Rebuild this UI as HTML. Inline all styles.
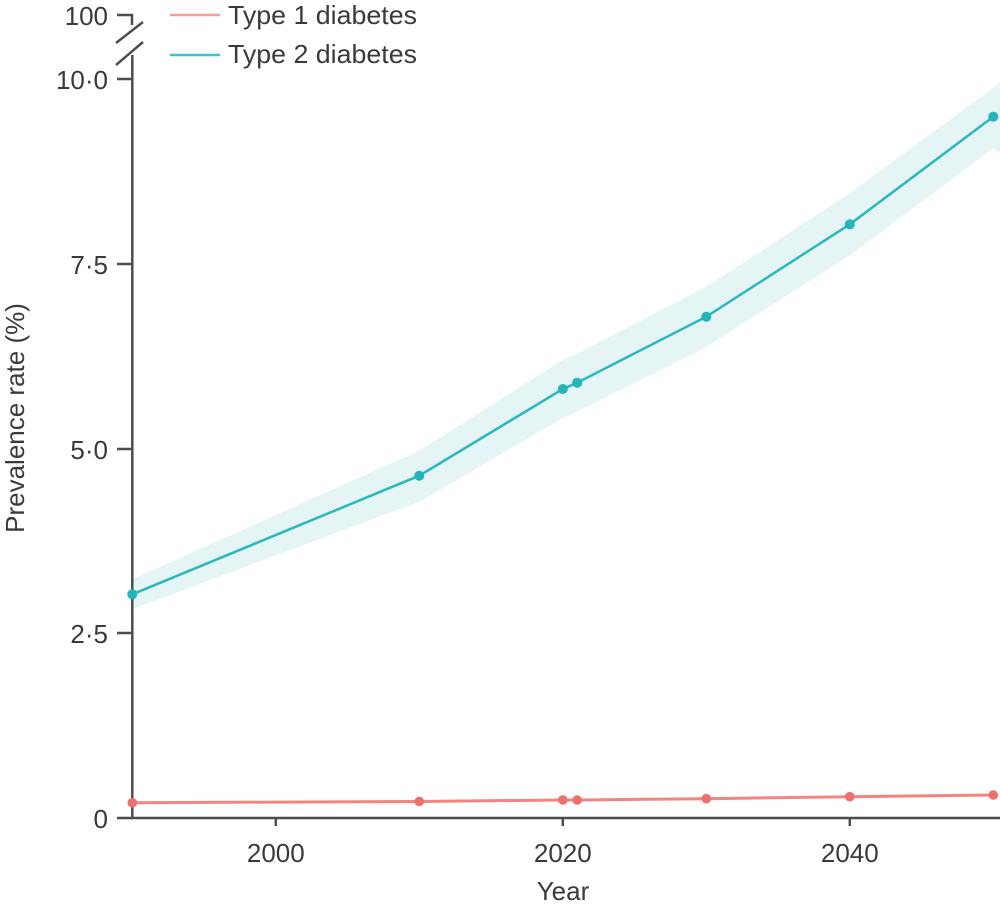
<!DOCTYPE html>
<html><head><meta charset="utf-8"><style>
html,body{margin:0;padding:0;background:#fff;}
svg{display:block;}
text{font-family:"Liberation Sans",sans-serif;fill:#3a3a3a;font-size:26px;}
</style></head><body>
<svg width="1000" height="906" viewBox="0 0 1000 906" xmlns="http://www.w3.org/2000/svg">
<!-- band -->
<polygon fill="#e5f4f5" points="132.3,579.3 419.3,450.7 562.8,360 577.2,353.7 706.3,286.7 849.8,193.3 993.3,87.7 1000,83 1000,153 993.3,148 849.8,255.3 706.3,346.7 577.2,411.7 562.8,418 419.3,501.7 132.3,609.3"/>
<!-- axes -->
<g stroke="#4d4d4d" stroke-width="2.5" fill="none">
<line x1="132.3" y1="55" x2="132.3" y2="819"/>
<line x1="131" y1="818" x2="1000" y2="818"/>
<polyline points="117,15 132,15 132,25"/>
<line x1="116" y1="43" x2="143" y2="22"/>
<line x1="116" y1="65" x2="143" y2="42"/>
<line x1="117" y1="79" x2="132" y2="79"/>
<line x1="117" y1="264" x2="132" y2="264"/>
<line x1="117" y1="449" x2="132" y2="449"/>
<line x1="117" y1="633" x2="132" y2="633"/>
<line x1="117" y1="818" x2="132" y2="818"/>
<line x1="275.8" y1="818" x2="275.8" y2="826"/>
<line x1="562.8" y1="818" x2="562.8" y2="826"/>
<line x1="849.8" y1="818" x2="849.8" y2="826"/>
</g>
<!-- y labels -->
<g text-anchor="end">
<text x="108" y="25">100</text>
<text x="108" y="89">10·0</text>
<text x="108" y="274">7·5</text>
<text x="108" y="459">5·0</text>
<text x="108" y="643">2·5</text>
<text x="108" y="828">0</text>
</g>
<g text-anchor="middle">
<text x="275.8" y="862">2000</text>
<text x="562.8" y="862">2020</text>
<text x="849.8" y="862">2040</text>
<text x="563" y="900">Year</text>
<text transform="translate(24,418) rotate(-90)">Prevalence rate (%)</text>
</g>
<!-- T1 -->
<polyline fill="none" stroke="#f3847e" stroke-width="3" points="132.3,802.7 419.3,801.5 562.8,800 577.2,800 706.3,798.7 849.8,796.7 993.3,795"/>
<g fill="#ef706a">
<circle cx="132.3" cy="802.7" r="4.8"/><circle cx="419.3" cy="801.5" r="4.8"/><circle cx="562.8" cy="800" r="4.8"/><circle cx="577.2" cy="800" r="4.8"/><circle cx="706.3" cy="798.7" r="4.8"/><circle cx="849.8" cy="796.7" r="4.8"/><circle cx="993.3" cy="795" r="4.8"/>
</g>
<!-- T2 -->
<polyline fill="none" stroke="#27b9bd" stroke-width="2.5" points="132.3,594.3 419.3,475.7 562.8,389 577.2,382.7 706.3,316.7 849.8,224.3 993.3,116.7"/>
<g fill="#22b5ba">
<circle cx="132.3" cy="594.3" r="5"/><circle cx="419.3" cy="475.7" r="5"/><circle cx="562.8" cy="389" r="5"/><circle cx="577.2" cy="382.7" r="5"/><circle cx="706.3" cy="316.7" r="5"/><circle cx="849.8" cy="224.3" r="5"/><circle cx="993.3" cy="116.7" r="5"/>
</g>
<!-- legend -->
<line x1="170" y1="15" x2="220" y2="15" stroke="#f4a19c" stroke-width="2.5"/>
<line x1="170" y1="55" x2="220" y2="55" stroke="#3cc3c7" stroke-width="2.5"/>
<text x="228" y="24" textLength="189" lengthAdjust="spacingAndGlyphs">Type 1 diabetes</text>
<text x="228" y="63" textLength="189" lengthAdjust="spacingAndGlyphs">Type 2 diabetes</text>
</svg>
</body></html>
